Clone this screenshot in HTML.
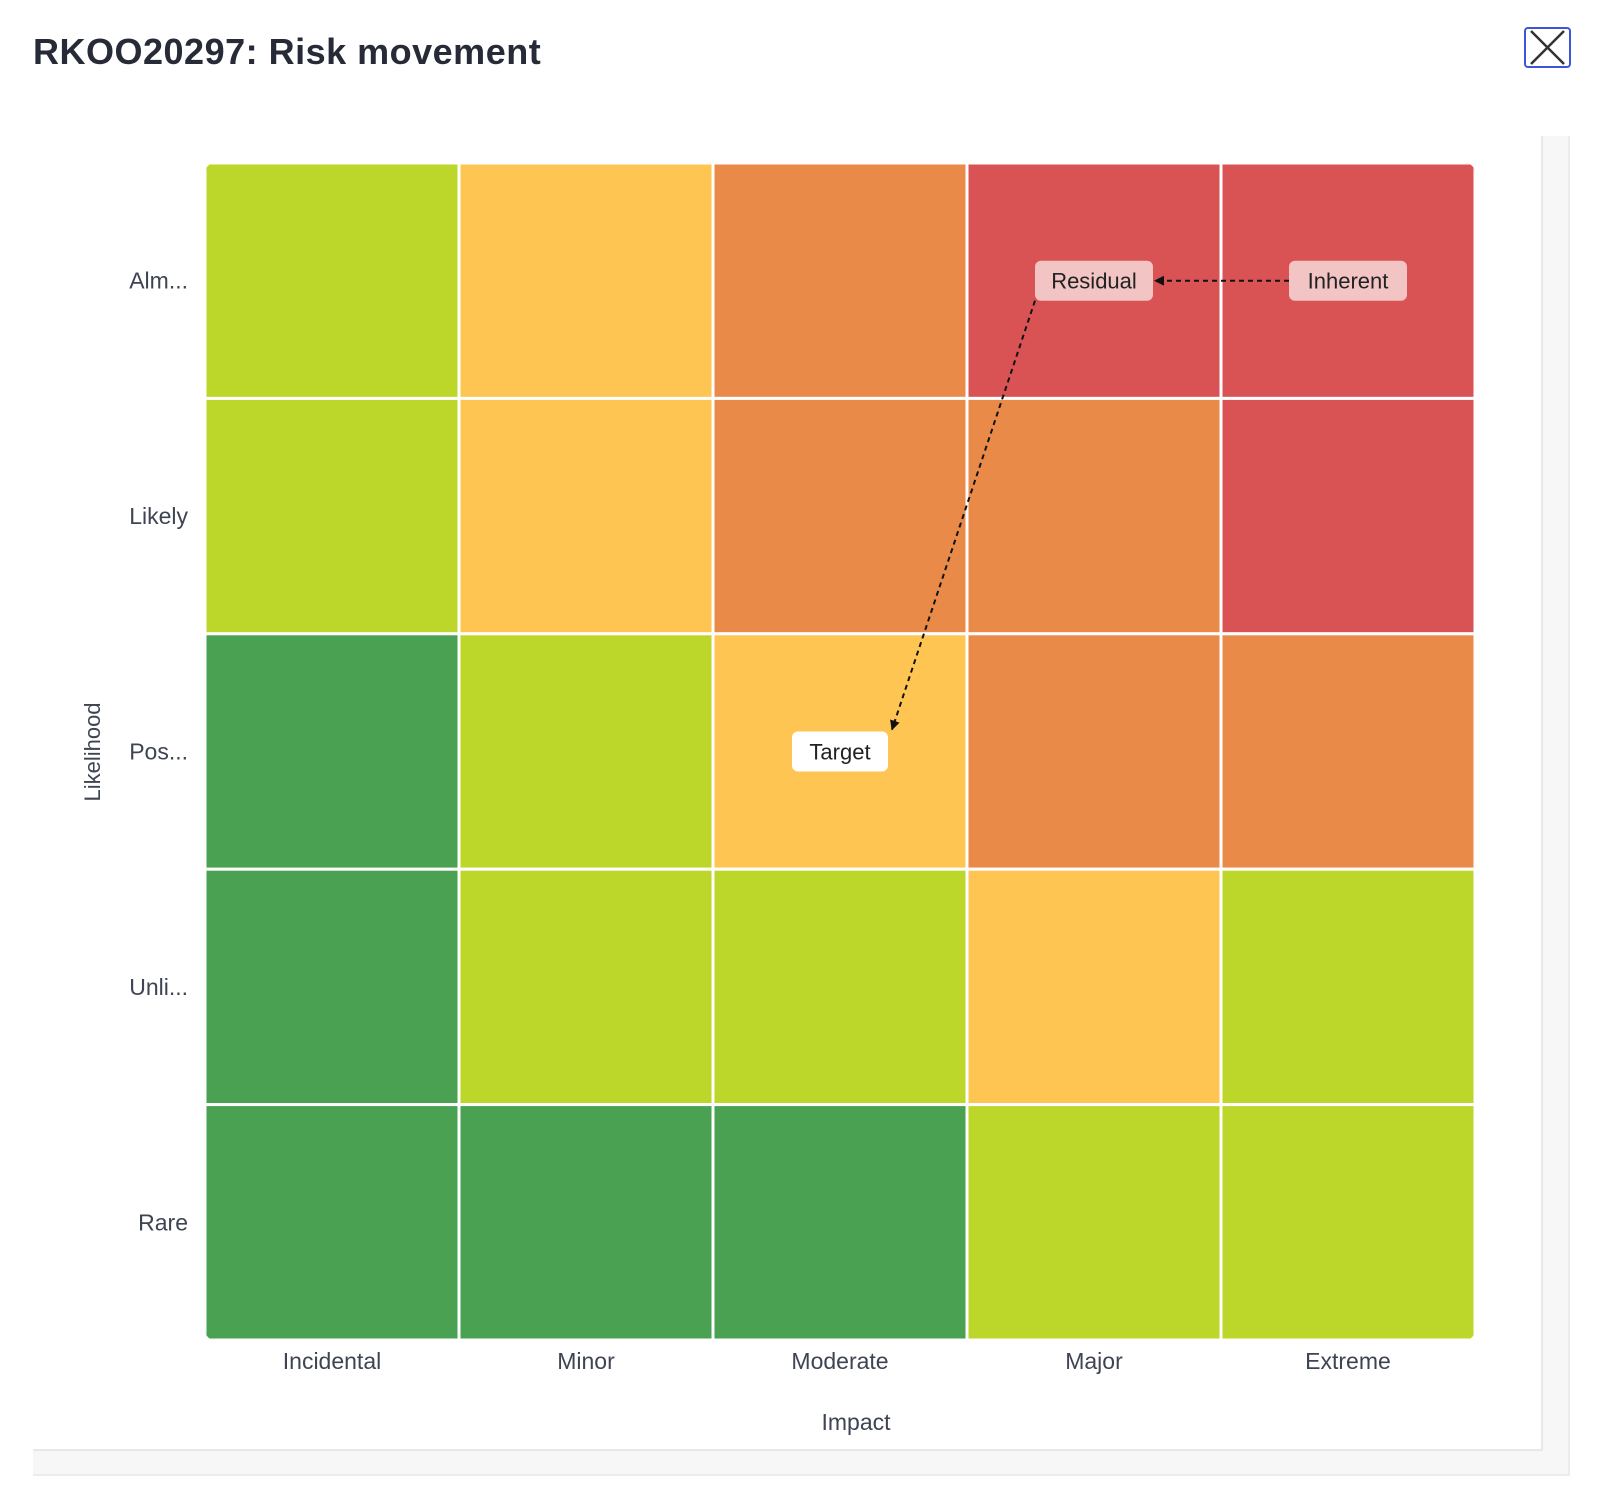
<!DOCTYPE html>
<html><head><meta charset="utf-8"><style>
html,body{margin:0;padding:0;background:#fff;width:1600px;height:1500px;overflow:hidden;font-family:"Liberation Sans",sans-serif;}
</style></head><body>
<div style="position:absolute;left:0;top:0;width:1600px;height:1500px;">
<div style="position:absolute;left:33px;top:31px;font-size:36px;letter-spacing:0.5px;font-weight:bold;color:#272b38;">RKOO20297: Risk movement</div>
<div style="position:absolute;left:1524px;top:27px;width:43px;height:37px;border:2.5px solid #3d55d6;border-radius:4px;">
<svg width="43" height="37" viewBox="0 0 43 37"><line x1="5" y1="2" x2="38" y2="35" stroke="#333" stroke-width="2.5"/><line x1="38" y1="2" x2="5" y2="35" stroke="#333" stroke-width="2.5"/></svg></div>
<div style="position:absolute;left:33px;top:136px;width:1535px;height:1338px;background:#f7f7f7;border-right:2px solid #ececec;border-bottom:2px solid #ececec;"></div>
<div style="position:absolute;left:33px;top:136px;width:1508px;height:1313px;background:#fff;border-right:2px solid #e8e8e8;border-bottom:2px solid #e8e8e8;"></div>
<svg id="chart" width="1600" height="1500" style="position:absolute;left:0;top:0;font-family:'Liberation Sans',sans-serif;">
<defs><marker id="ah" markerWidth="10" markerHeight="10" refX="9" refY="5" orient="auto" markerUnits="userSpaceOnUse"><path d="M0,0 L10,5 L0,10 z" fill="#111"/></marker>
<clipPath id="gclip"><rect x="205" y="163" width="1270" height="1177" rx="10"/></clipPath></defs>
<g id="cells" clip-path="url(#gclip)"></g>
<g id="axes"></g>
<g id="marks"></g>
</svg>
</div>
<script>
const impacts = ["Incidental","Minor","Moderate","Major","Extreme"];
const likelihoods = ["Alm...","Likely","Pos...","Unli...","Rare"];
const levels = [
  ["L","Y","O","R","R"],
  ["L","Y","O","O","R"],
  ["G","L","Y","O","O"],
  ["G","L","L","Y","L"],
  ["G","G","G","L","L"]
];
const levelColors = {G:"#4aa151",L:"#bcd72a",Y:"#fec552",O:"#ea8a49",R:"#d95354"};
const riskNames = ["Inherent","Residual","Target"];
const riskImpact = [4,3,2];
const riskLikelihood = [0,0,2];
const riskFill = ["#f2c4c4","#f2c4c4","#ffffff"];

const NS="http://www.w3.org/2000/svg";
const X0=205,Y0=163,CW=254,CH=235.4;
const xCenter=i=>X0+(i+0.5)*CW;
const yCenter=j=>Y0+(j+0.5)*CH;
function mk(tag,attrs,parent){const e=document.createElementNS(NS,tag);for(const k in attrs)e.setAttribute(k,attrs[k]);parent.appendChild(e);return e;}
const cells=document.getElementById('cells'),axes=document.getElementById('axes'),marks=document.getElementById('marks');
levels.forEach((row,j)=>row.forEach((lv,i)=>{
  const r=mk('rect',{x:X0+i*CW,y:Y0+j*CH,width:CW,height:CH,fill:levelColors[lv],stroke:'#fff','stroke-width':3},cells);
  
  
}));
impacts.forEach((t,i)=>{
  const e=mk('text',{x:xCenter(i),y:1369,'text-anchor':'middle','font-size':23,fill:'#3e4452'},axes);e.textContent=t;
  
  
});
likelihoods.forEach((t,j)=>{
  const e=mk('text',{x:188,y:yCenter(j)+8,'text-anchor':'end','font-size':23,fill:'#3e4452'},axes);e.textContent=t;
  
  
});
let xt=mk('text',{x:856,y:1430,'text-anchor':'middle','font-size':23,fill:'#3e4452'},axes);xt.textContent="Impact";


let yt=mk('text',{x:0,y:0,'text-anchor':'middle','font-size':22,fill:'#3e4452',transform:'translate(100,752) rotate(-90)'},axes);yt.textContent="Likelihood";


const BW=[118,118,96],BH=40;
const box=k=>({cx:xCenter(riskImpact[k]),cy:yCenter(riskLikelihood[k]),w:BW[k],h:BH});
function arrow(a,b){
  const A=box(a),B=box(b);
  let x1,y1,x2,y2;
  if(A.cy===B.cy){x1=A.cx-(A.cx>B.cx?1:-1)*A.w/2;y1=A.cy;x2=B.cx+(A.cx>B.cx?1:-1)*B.w/2+2;y2=B.cy;}
  else{x1=A.cx-A.w/2;y1=A.cy+A.h/2;x2=B.cx+B.w/2+4;y2=B.cy-B.h/2-2;}
  const l=mk('line',{x1:x1,y1:y1,x2:x2,y2:y2,stroke:'#111','stroke-width':2,'stroke-dasharray':'5,4','marker-end':'url(#ah)'},marks);
  
  
}
arrow(0,1);arrow(1,2);
riskNames.forEach((n,k)=>{
  const B=box(k);
  const g=mk('g',{},marks);
  
  
  mk('rect',{x:B.cx-B.w/2,y:B.cy-B.h/2,width:B.w,height:B.h,rx:6,fill:riskFill[k]},g);
  const t=mk('text',{x:B.cx,y:B.cy+8,'text-anchor':'middle','font-size':22,fill:'#222'},g);t.textContent=n;
});
</script>
</body></html>
